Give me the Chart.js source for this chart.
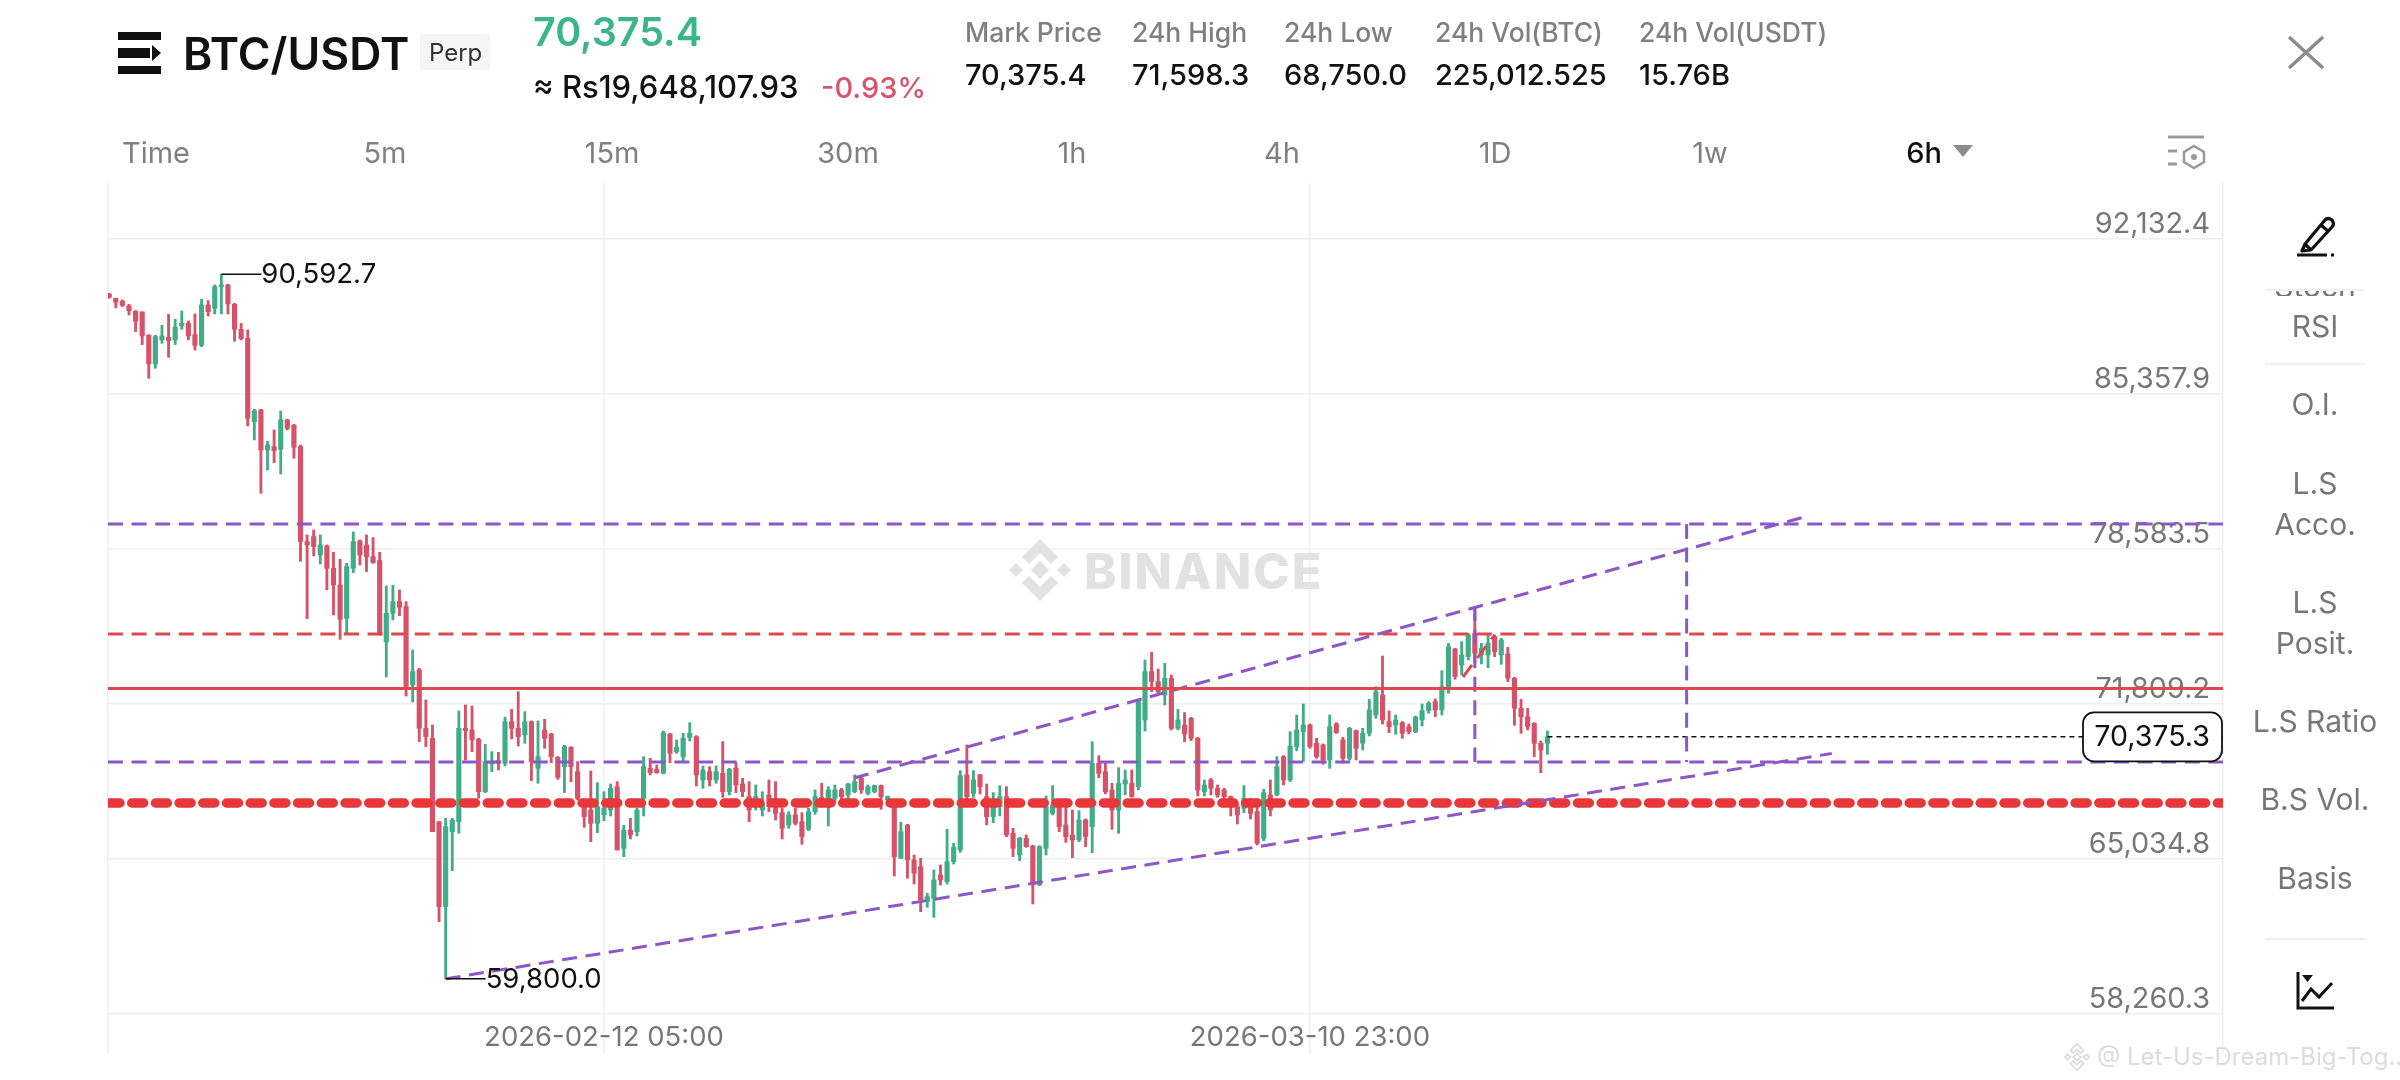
<!DOCTYPE html>
<html>
<head>
<meta charset="utf-8">
<title>BTC/USDT Perp</title>
<script src="https://cdn.jsdelivr.net/npm/chart.js@4/dist/chart.umd.min.js"></script>
<style>
  html, body { margin: 0; padding: 0; background: #fff; }
  body { width: 2400px; height: 1080px; position: relative; overflow: hidden; font-family: Inter, "Noto Sans", sans-serif; }
  canvas { position: absolute; left: 0; top: 0; }
  .t { position: absolute; white-space: nowrap; line-height: 1; transform: translateY(-50%); }
  .gray { color: #808080; font-size: 26.5px; font-weight: 500; }
  .val { color: #111; font-size: 29px; font-weight: 500; }
  .tab { color: #808080; font-size: 29px; transform: translate(-50%, -50%); }
  .side { color: #777; font-size: 30px; transform: translate(-50%, -50%); }
  .sep { position: absolute; left: 2265px; width: 100px; height: 2px; background: #f0f0f0; }
  svg { position: absolute; overflow: visible; }
</style>
</head>
<body>
<canvas id="chart" width="2400" height="1080"></canvas>

<svg style="left:118px;top:32px" width="43" height="42" viewBox="0 0 43 42">
  <rect x="0" y="0" width="43" height="8" fill="#111"/>
  <rect x="0" y="16" width="32" height="10" fill="#111"/>
  <polygon points="34,13 43,21 34,29" fill="#111"/>
  <rect x="0" y="34" width="43" height="8" fill="#111"/>
</svg>
<div class="t" style="left:183px;top:54px;font-size:44.5px;font-weight:600;color:#111">BTC/USDT</div>
<div style="position:absolute;left:420px;top:34px;width:70px;height:36px;background:#f5f5f5;border-radius:4px"></div>
<div class="t" style="left:429px;top:53px;font-size:24px;color:#333">Perp</div>
<div class="t" style="left:533px;top:33px;font-size:39.5px;font-weight:600;color:#3db58b">70,375.4</div>
<div class="t" style="left:533px;top:86px;font-size:31px;font-weight:500;color:#111">≈ Rs19,648,107.93</div>
<div class="t" style="left:821px;top:87px;font-size:29px;font-weight:500;color:#d9536b">-0.93%</div>

<div class="t gray" style="left:965px;top:32px">Mark Price</div>
<div class="t gray" style="left:1132px;top:32px">24h High</div>
<div class="t gray" style="left:1284px;top:32px">24h Low</div>
<div class="t gray" style="left:1435px;top:32px">24h Vol(BTC)</div>
<div class="t gray" style="left:1639px;top:32px">24h Vol(USDT)</div>
<div class="t val" style="left:965px;top:74px">70,375.4</div>
<div class="t val" style="left:1132px;top:74px">71,598.3</div>
<div class="t val" style="left:1284px;top:74px">68,750.0</div>
<div class="t val" style="left:1435px;top:74px">225,012.525</div>
<div class="t val" style="left:1639px;top:74px">15.76B</div>

<svg style="left:2288px;top:36px" width="36" height="33" viewBox="0 0 36 33">
  <path d="M1 1 L35 32 M35 1 L1 32" stroke="#8c8c8c" stroke-width="3.5" fill="none"/>
</svg>

<div class="t tab" style="left:156px;top:152px">Time</div>
<div class="t tab" style="left:385px;top:152px">5m</div>
<div class="t tab" style="left:612px;top:152px">15m</div>
<div class="t tab" style="left:848px;top:152px">30m</div>
<div class="t tab" style="left:1072px;top:152px">1h</div>
<div class="t tab" style="left:1282px;top:152px">4h</div>
<div class="t tab" style="left:1495px;top:152px">1D</div>
<div class="t tab" style="left:1710px;top:152px">1w</div>
<div class="t tab" style="left:1924px;top:152px;color:#111;font-weight:500">6h</div>
<svg style="left:1953px;top:145px" width="20" height="12" viewBox="0 0 20 12"><polygon points="0,0 20,0 10,12" fill="#8c8c8c"/></svg>
<svg style="left:2168px;top:135px" width="38" height="34" viewBox="0 0 38 34">
  <path d="M0 2 H36" stroke="#999" stroke-width="3"/>
  <path d="M0 16 H9 M0 29 H9" stroke="#999" stroke-width="3"/>
  <polygon points="26,11 36,17 36,27 26,33 16,27 16,17" fill="none" stroke="#999" stroke-width="2.5"/>
  <circle cx="26" cy="22" r="3" fill="#999"/>
</svg>

<!-- side panel -->
<svg style="left:2297px;top:217px" width="38" height="40" viewBox="0 0 38 40">
  <path d="M8 27 L28 3 Q31 0 35 3 Q38 7 35 10 L14 33 L5 34 Z M24 8 L32 15 M8 27 L13 32" fill="none" stroke="#111" stroke-width="3.2" stroke-linejoin="round"/>
  <path d="M0 38 H30 M34 38 H37" stroke="#111" stroke-width="3.2"/>
</svg>
<div style="position:absolute;left:2240px;top:290px;width:150px;height:6px;overflow:hidden">
  <div style="position:absolute;left:0;width:150px;text-align:center;top:-19px;color:#777;font-size:30px;line-height:1">Stoch</div>
</div>
<div class="sep" style="top:289px"></div>
<div class="t side" style="left:2315px;top:326px">RSI</div>
<div class="sep" style="top:363px"></div>
<div class="t side" style="left:2315px;top:404px">O.I.</div>
<div class="t side" style="left:2315px;top:483px">L.S</div>
<div class="t side" style="left:2315px;top:524px">Acco.</div>
<div class="t side" style="left:2315px;top:602px">L.S</div>
<div class="t side" style="left:2315px;top:643px">Posit.</div>
<div class="t side" style="left:2315px;top:721px">L.S Ratio</div>
<div class="t side" style="left:2315px;top:799px">B.S Vol.</div>
<div class="t side" style="left:2315px;top:878px">Basis</div>
<div class="sep" style="top:938px"></div>
<svg style="left:2296px;top:972px" width="38" height="38" viewBox="0 0 38 38">
  <path d="M2 0 V36 H38" fill="none" stroke="#111" stroke-width="3"/>
  <polygon points="6,3 17,3 11.5,10" fill="#111"/>
  <path d="M6 29 L15 17 L23 25 L36 11" fill="none" stroke="#111" stroke-width="3"/>
</svg>

<!-- watermarks -->
<svg style="left:1009px;top:539px" width="62" height="62" viewBox="-31 -31 62 62" fill="#e2e2e2">
  <polygon points="0,-9 9,0 0,9 -9,0"/>
  <polygon points="-24,-7 -17,0 -24,7 -31,0"/>
  <polygon points="24,-7 31,0 24,7 17,0"/>
  <polygon points="0,-31 18,-13 11,-6 0,-17 -11,-6 -18,-13"/>
  <polygon points="0,31 18,13 11,6 0,17 -11,6 -18,13"/>
</svg>
<div class="t" style="left:1084px;top:571px;font-size:49px;font-weight:800;color:#e2e2e2;letter-spacing:2px">BINANCE</div>
<svg style="left:2063px;top:1042px" width="28" height="30" viewBox="-15 -15 30 30" fill="none" stroke="#dedede" stroke-width="2">
  <polygon points="0,-4 4,0 0,4 -4,0"/>
  <polygon points="-10,-3 -7,0 -10,3 -13,0"/>
  <polygon points="10,-3 13,0 10,3 7,0"/>
  <polygon points="0,-14 7,-7 4,-4 0,-8 -4,-4 -7,-7"/>
  <polygon points="0,14 7,7 4,4 0,8 -4,4 -7,7"/>
</svg>
<div class="t" style="left:2097px;top:1057px;font-size:24px;color:#dcdcdc">@ Let-Us-Dream-Big-Tog...</div>

<script>
// 6h candles
const opens = [
  89732, 89542, 89411, 89207, 88974, 88945, 87925, 86672, 87721, 87838, 87721, 88333, 88449, 87954, 87488, 89251, 89105, 90052, 90125, 89280,
  88187, 87794, 84151, 84661, 82913, 83059, 82942, 84224, 83991, 83059, 78906, 79125, 78323, 78717, 77740, 77012, 75555, 77740, 78935, 78760,
  78250, 78076, 74521, 75774, 76283, 76065, 72641, 73297, 70747, 70310, 66667, 62952, 66230, 66667, 70747, 70674, 70266, 67979, 69188, 69334,
  69217, 71038, 70747, 70456, 71038, 69000, 70674, 70499, 69479, 69071, 69916, 68853, 67469, 67177, 66594, 66959, 67177, 68197, 65502, 66303,
  66230, 67687, 68999, 68955, 68780, 70499, 69727, 69509, 70354, 70383, 68489, 68853, 68489, 68780, 67979, 68999, 68314, 67760, 67396, 67177,
  67833, 67250, 67061, 66522, 66959, 66667, 66332, 67104, 67731, 67644, 67687, 68052, 67833, 67979, 68561, 67906, 67979, 68241, 67614, 67614,
  65065, 66522, 64992, 64700, 63171, 63316, 64336, 64045, 64919, 65429, 68707, 67906, 68707, 67760, 66886, 67323, 67760, 66157, 65210, 65939,
  65604, 63899, 65502, 67032, 67279, 66522, 66085, 65866, 66740, 66449, 69217, 68853, 68052, 67177, 68314, 68343, 68197, 71111, 73224, 72787,
  72204, 72932, 70747, 70893, 71184, 70310, 67979, 68489, 68124, 68052, 67760, 67323, 67250, 67323, 67104, 65939, 67833, 67833, 69509, 68489,
  69946, 70601, 70892, 70091, 70018, 69362, 70936, 70236, 69435, 70644, 70091, 70528, 71329, 72203, 71038, 70892, 70994, 70819, 70601, 71111,
  71519, 71912, 71548, 72568, 74214, 73515, 73879, 74899, 73952, 73952, 74753, 73952, 73995, 72932, 71621, 71256, 70965, 70091, 70091
];
const highs = [
  89761, 89542, 89469, 89280, 89003, 88945, 87954, 87925, 88362, 88843, 88624, 88989, 88552, 88857, 89499, 89440, 90125, 90592.7, 90154, 89324,
  88449, 88158, 84690, 84690, 83292, 83787, 84618, 84253, 84035, 83131, 79198, 79416, 79198, 78760, 78440, 78134, 77959, 79329, 78979, 79198,
  79081, 78440, 76968, 76997, 76794, 76283, 74171, 73370, 71985, 70893, 66667, 66813, 66813, 71505, 71767, 71723, 70310, 70048, 69727, 69698,
  71228, 71577, 72350, 71475, 71068, 71068, 71140, 70528, 69509, 70004, 69945, 69290, 67614, 68882, 68372, 67979, 68314, 68416, 66507, 66813,
  67250, 69509, 69436, 69144, 70630, 70528, 70237, 70528, 70995, 70426, 69100, 69071, 69100, 70164, 69000, 69246, 68561, 68416, 68270, 67979,
  68489, 68416, 67250, 67104, 67250, 67061, 67250, 68052, 68343, 68197, 68270, 68124, 68343, 68707, 68605, 68270, 68270, 68270, 67789, 67644,
  66638, 66551, 65210, 65065, 63535, 64555, 64773, 66332, 65720, 68897, 70018, 68897, 68736, 68314, 67935, 68241, 68197, 66376, 65983, 66085,
  65633, 65618, 67789, 68241, 67323, 67323, 67177, 67148, 66784, 70164, 69552, 69290, 68343, 69028, 68926, 68926, 71956, 73734, 74069, 73340,
  73588, 73078, 71577, 71432, 71228, 70354, 68489, 68561, 68270, 68124, 67789, 67469, 68241, 67687, 67541, 68081, 68489, 69509, 69552, 70601,
  71330, 71810, 70936, 70309, 70062, 71329, 70994, 70353, 70790, 70673, 70746, 72014, 72568, 73908, 71504, 71329, 71038, 70936, 71285, 71810,
  71912, 72028, 73267, 74462, 74243, 74535, 74899, 75992, 74462, 74826, 74826, 74680, 74287, 72976, 72014, 71621, 70994, 70193, 70630
];
const lows = [
  89542, 89120, 89178, 88814, 88085, 87517, 86045, 86483, 87575, 86963, 87517, 88187, 87721, 87284, 87430, 88770, 88857, 88857, 88857, 87663,
  87721, 83962, 83350, 81019, 82039, 82359, 81864, 83787, 82549, 78046, 75540, 78280, 77930, 76794, 75701, 74637, 74899, 77551, 77886, 77595,
  77959, 74827, 72991, 75482, 75672, 72160, 71898, 70164, 69945, 66230, 62296, 59800, 64526, 66157, 69363, 69727, 67687, 67935, 68853, 68926,
  69101, 70281, 69975, 70091, 68459, 68343, 69873, 69246, 68518, 67935, 68416, 67614, 66420, 65793, 66187, 66711, 66915, 65429, 65138, 65910,
  66041, 66915, 68707, 68780, 68751, 69246, 69654, 69334, 70193, 68226, 68124, 68226, 68343, 67731, 67833, 67935, 67760, 66667, 67177, 66915,
  67104, 66740, 65910, 66376, 66522, 65677, 66274, 66988, 67498, 66478, 67498, 67644, 67614, 67935, 67906, 67833, 67935, 67206, 67469, 64292,
  65065, 64191, 63943, 62733, 62923, 62486, 63899, 63943, 64817, 65327, 67644, 67731, 67877, 66522, 66624, 66915, 66012, 65138, 64963, 65546,
  63069, 63870, 65210, 66959, 66230, 65764, 65094, 65793, 65575, 65312, 68591, 67877, 66332, 66157, 67833, 67731, 68052, 70630, 72350, 72277,
  71767, 70674, 70674, 70164, 70208, 67789, 67789, 67833, 67731, 67614, 66915, 66565, 67061, 66784, 65647, 65837, 66915, 67789, 68270, 68416,
  69771, 69290, 69872, 69435, 69173, 68998, 70528, 69217, 69362, 69362, 69799, 70411, 71184, 70936, 70557, 70484, 70309, 70499, 70557, 70848,
  71402, 71256, 71329, 72276, 72888, 73077, 73733, 73588, 73558, 73398, 73879, 73544, 72786, 70877, 70528, 70673, 69508, 68808, 69610
];
const closes = [
  89586, 89367, 89236, 89003, 88537, 87896, 86672, 87867, 87896, 87692, 88275, 88449, 87896, 87488, 89251, 88959, 90052, 90125, 89295, 88187,
  87779, 84297, 84632, 82913, 83131, 82884, 84224, 83860, 83030, 78906, 78760, 78688, 78760, 77740, 77012, 75511, 77813, 78906, 78323, 78250,
  77988, 74899, 75774, 76283, 76036, 72554, 73224, 70747, 70383, 66230, 62952, 66449, 66740, 70747, 70645, 70237, 67979, 69290, 69290, 69217,
  71038, 70747, 70383, 71038, 69290, 69509, 70310, 69509, 68605, 69945, 69071, 67687, 66886, 66594, 67323, 67250, 68124, 65429, 66303, 66085,
  67177, 69071, 68809, 68809, 70558, 69654, 69916, 70310, 70528, 68707, 68926, 68489, 68853, 67979, 68955, 68270, 67979, 67177, 67760, 67469,
  67323, 67032, 66376, 66959, 66594, 66012, 67104, 67760, 67614, 68052, 68052, 67760, 68314, 68416, 68052, 68197, 68241, 67760, 67760, 65138,
  66230, 64992, 64409, 63243, 63389, 64118, 64118, 64919, 65545, 68678, 67760, 68489, 68197, 66886, 67323, 67760, 66085, 65502, 65939, 65575,
  63899, 65575, 67323, 67396, 66449, 66012, 65866, 66740, 66012, 69217, 68780, 67979, 67177, 68343, 68489, 67760, 71912, 73224, 72787, 72350,
  72932, 70747, 71111, 70499, 70310, 68052, 68270, 68124, 67833, 67760, 67469, 66959, 67687, 67032, 65720, 67935, 67177, 69071, 68489, 69975,
  70674, 70892, 69945, 69508, 69362, 70819, 70557, 69435, 70746, 69872, 70528, 71548, 72349, 71111, 70819, 71111, 70528, 70601, 71227, 71519,
  71839, 71548, 72568, 74316, 73005, 73952, 74826, 74025, 74243, 74462, 74098, 74607, 72932, 71621, 71256, 70819, 70091, 69799, 70375.3
];

// axis values
const yTicks = [92132.4, 85357.9, 78583.5, 71809.2, 65034.8, 58260.3];
const xTickIndexes = [75, 182];
const xTickLabels = ['2026-02-12 05:00', '2026-03-10 23:00'];
const xRange = [-0.18, 320.4];
const yRange = [56512, 94580];

// drawn levels and trend lines, as [candle index, price]
const purpleLevels = [79676, 69273];
const redDashLevel = 74868;
const redSolidLevel = 72487;
const supportLevel = 67482;
const lastPrice = 70375.3;
const lowerTrend = [[51, 59800], [261.1, 69647]];
const upperTrend = [[112.9, 68576], [256.7, 79962]];
const measureOne = [[207, 76094], [207, 69273]];
const measureTwo = [[239.1, 79676], [239.1, 69273]];
const shortRedTrend = [[205.2, 72990], [210, 74826]];

const GREEN = '#40ad88';
const RED = '#d65268';
const PURPLE = '#8c58c8';
const LINE_RED = '#dc4a4e';
const AXIS_FONT = 'Inter';

const candleColors = opens.map((o, i) => (closes[i] >= o ? GREEN : RED));

function lineSet(points, color, width, dash, cap) {
  return {
    type: 'line',
    data: points.map(p => ({ x: p[0], y: p[1] })),
    borderColor: color,
    borderWidth: width,
    borderDash: dash || [],
    borderCapStyle: cap || 'butt',
    pointRadius: 0,
    order: 1
  };
}

function levelSet(price, color, width, dash, cap) {
  return lineSet([[xRange[0], price], [xRange[1], price]], color, width, dash, cap);
}

const LINE_DASH = [15, 8.6];
const LINE_WIDTH = 3;

// peak and trough callouts, plus the boxed last price
const overlayPlugin = {
  id: 'overlay',
  afterDatasetsDraw(chart) {
    const { ctx, scales: { x, y }, chartArea } = chart;
    ctx.save();
    ctx.font = `27.5px ${AXIS_FONT}`;
    ctx.textBaseline = 'middle';

    const peak = highs.indexOf(Math.max(...highs));
    const trough = lows.indexOf(Math.min(...lows));
    [[peak, highs[peak]], [trough, lows[trough]]].forEach(([idx, price]) => {
      const px = x.getPixelForValue(idx);
      const py = y.getPixelForValue(price);
      ctx.strokeStyle = '#111';
      ctx.lineWidth = 1.5;
      ctx.beginPath();
      ctx.moveTo(px, py);
      ctx.lineTo(px + 40, py);
      ctx.stroke();
      ctx.fillStyle = '#111';
      ctx.fillText(price.toLocaleString('en-US', { minimumFractionDigits: 1 }), px + 40, py + 1);
    });

    const boxY = y.getPixelForValue(lastPrice);
    ctx.beginPath();
    ctx.roundRect(chartArea.right - 140, boxY - 24.5, 139, 49, 11);
    ctx.fillStyle = '#fff';
    ctx.fill();
    ctx.strokeStyle = '#111';
    ctx.lineWidth = 1.8;
    ctx.stroke();
    ctx.fillStyle = '#111';
    ctx.textAlign = 'right';
    ctx.font = `28.6px ${AXIS_FONT}`;
    ctx.fillText(lastPrice.toLocaleString('en-US', { minimumFractionDigits: 1 }), chartArea.right - 13, boxY + 1);
    ctx.restore();
  }
};

new Chart(document.getElementById('chart'), {
  data: {
    datasets: [
      {
        type: 'bar',
        data: highs.map((h, i) => ({ x: i, y: [lows[i], h] })),
        backgroundColor: candleColors,
        barThickness: 2.2,
        grouped: false,
        order: 6
      },
      {
        type: 'bar',
        data: opens.map((o, i) => ({ x: i, y: [o, closes[i]] })),
        backgroundColor: candleColors,
        barThickness: 4.5,
        grouped: false,
        order: 5
      },
      levelSet(purpleLevels[0], PURPLE, LINE_WIDTH, LINE_DASH),
      levelSet(purpleLevels[1], PURPLE, LINE_WIDTH, LINE_DASH),
      levelSet(redDashLevel, LINE_RED, LINE_WIDTH, LINE_DASH),
      levelSet(redSolidLevel, LINE_RED, LINE_WIDTH),
      lineSet(lowerTrend, PURPLE, LINE_WIDTH, LINE_DASH),
      lineSet(upperTrend, PURPLE, LINE_WIDTH, LINE_DASH),
      lineSet(measureOne, PURPLE, LINE_WIDTH, LINE_DASH),
      lineSet(measureTwo, PURPLE, LINE_WIDTH, LINE_DASH),
      lineSet(shortRedTrend, LINE_RED, LINE_WIDTH, LINE_DASH),
      lineSet([[opens.length - 1, lastPrice], [xRange[1], lastPrice]], '#111', 1.6, [5, 4]),
      levelSet(supportLevel, '#e93638', 9.5, [12, 11.7], 'round')
    ]
  },
  options: {
    responsive: false,
    animation: false,
    devicePixelRatio: 1,
    layout: { padding: { left: 108, right: 177, top: 183, bottom: 26 } },
    plugins: { legend: { display: false }, tooltip: { enabled: false } },
    scales: {
      x: {
        type: 'linear',
        offset: false,
        min: xRange[0],
        max: xRange[1],
        afterBuildTicks: axis => {
          axis.ticks = [xRange[0], ...xTickIndexes, xRange[1]].map(v => ({ value: v }));
        },
        afterFit: axis => { axis.height = 0; },
        border: { display: false },
        grid: { color: '#efefef', lineWidth: 1.5, drawTicks: false, offset: false },
        ticks: {
          callback: v => xTickLabels[xTickIndexes.indexOf(v)] || '',
          autoSkip: false,
          maxRotation: 0,
          mirror: true,
          padding: 0,
          color: '#777',
          font: { family: AXIS_FONT, size: 27.5 }
        }
      },
      y: {
        position: 'right',
        min: yRange[0],
        max: yRange[1],
        afterBuildTicks: axis => { axis.ticks = yTicks.map(v => ({ value: v })); },
        afterFit: axis => { axis.width = 0; },
        border: { display: false },
        grid: { color: '#efefef', lineWidth: 1.5, drawTicks: false },
        ticks: {
          callback: v => v.toLocaleString('en-US', { minimumFractionDigits: 1 }),
          mirror: true,
          padding: -13,
          labelOffset: -15,
          color: '#777',
          font: { family: AXIS_FONT, size: 28.8 }
        }
      }
    }
  },
  plugins: [overlayPlugin]
});
</script>
</body>
</html>
